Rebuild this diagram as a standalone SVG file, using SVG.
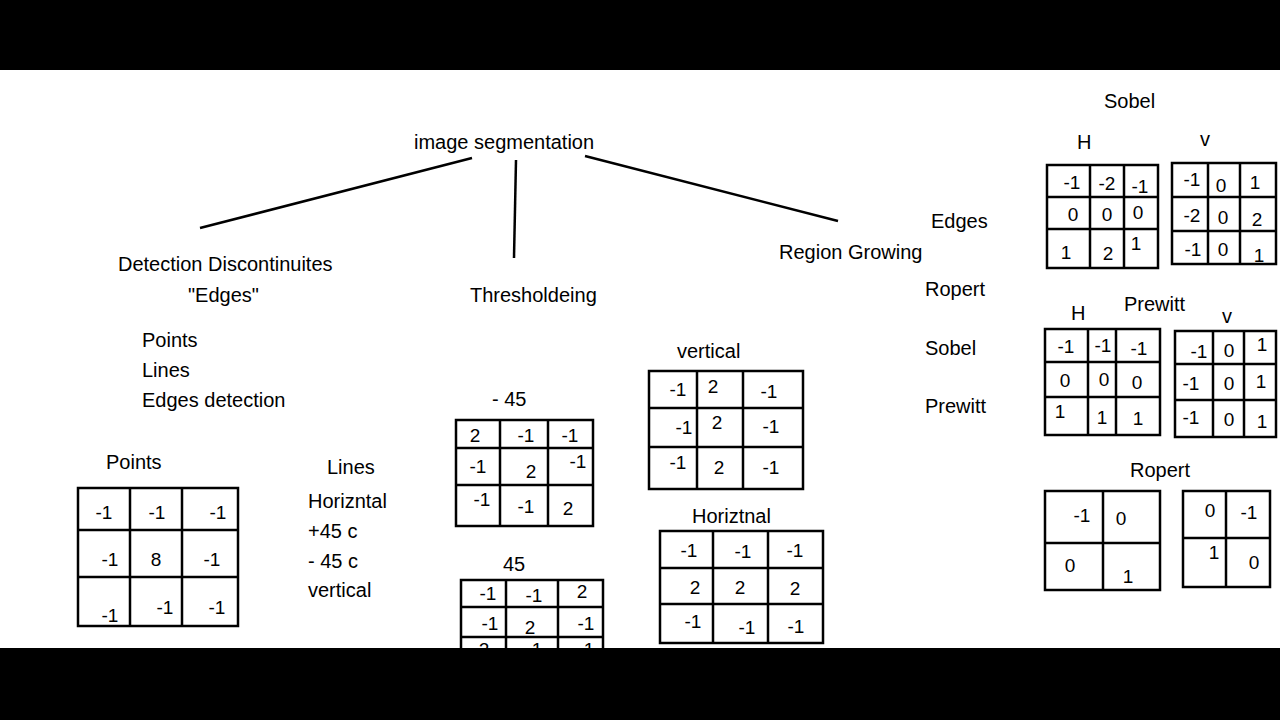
<svg xmlns="http://www.w3.org/2000/svg" width="1280" height="720" viewBox="0 0 1280 720">
<style>
text{font-family:"Liberation Sans","DejaVu Sans",sans-serif;font-size:20px;fill:#000}
.m text{font-size:19px;text-anchor:middle}
.g{fill:none;stroke:#000;stroke-width:2.5}
.c{stroke:#000;stroke-width:2.5}
</style>
<rect width="1280" height="720" fill="#fff"/>
<g id="connectors">
<line class="c" x1="472" y1="158" x2="200" y2="228"/>
<line class="c" x1="516" y1="160" x2="514" y2="258"/>
<line class="c" x1="585" y1="156" x2="838" y2="221"/>
</g>
<g id="labels">
<text x="414" y="149">image segmentation</text>
<text x="118" y="271">Detection Discontinuites</text>
<text x="188" y="302">"Edges"</text>
<text x="470" y="302">Thresholdeing</text>
<text x="779" y="259">Region Growing</text>
<text x="142" y="347">Points</text>
<text x="142" y="377">Lines</text>
<text x="142" y="407">Edges detection</text>
<text x="106" y="469">Points</text>
<text x="327" y="474">Lines</text>
<text x="308" y="508">Horizntal</text>
<text x="308" y="538">+45 c</text>
<text x="308" y="568">- 45 c</text>
<text x="308" y="597">vertical</text>
<text x="492" y="406">- 45</text>
<text x="503" y="571">45</text>
<text x="677" y="358">vertical</text>
<text x="692" y="523">Horiztnal</text>
<text x="1104" y="108">Sobel</text>
<text x="1077" y="149">H</text>
<text x="1200" y="146">v</text>
<text x="931" y="228">Edges</text>
<text x="925" y="296">Ropert</text>
<text x="925" y="355">Sobel</text>
<text x="925" y="413">Prewitt</text>
<text x="1124" y="311">Prewitt</text>
<text x="1071" y="320">H</text>
<text x="1222" y="323">v</text>
<text x="1130" y="477">Ropert</text>
</g>
<g id="m-points" class="m">
<rect class="g" x="78" y="488" width="160" height="138"/>
<path class="g" d="M130 488V626M182 488V626M78 530H238M78 577H238"/>
<text x="104" y="519">-1</text><text x="157" y="519">-1</text><text x="218" y="519">-1</text>
<text x="110" y="566">-1</text><text x="156" y="566">8</text><text x="212" y="566">-1</text>
<text x="110" y="622">-1</text><text x="165" y="614">-1</text><text x="217" y="614">-1</text>
</g>
<g id="m-minus45" class="m">
<rect class="g" x="456" y="420" width="137" height="106"/>
<path class="g" d="M500 420V526M548 420V526M456 448H593M456 485H593"/>
<text x="475" y="442">2</text><text x="526" y="442">-1</text><text x="570" y="442">-1</text>
<text x="478" y="473">-1</text><text x="531" y="478">2</text><text x="578" y="468">-1</text>
<text x="482" y="506">-1</text><text x="526" y="513">-1</text><text x="568" y="515">2</text>
</g>
<g id="m-45" class="m">
<rect class="g" x="461" y="580" width="142" height="80"/>
<path class="g" d="M506 580V660M558 580V660M461 607H603M461 637H603"/>
<text x="488" y="600">-1</text><text x="534" y="602">-1</text><text x="582" y="598">2</text>
<text x="490" y="630">-1</text><text x="530" y="634">2</text><text x="586" y="630">-1</text>
<text x="484" y="656">2</text><text x="534" y="656">-1</text><text x="586" y="656">-1</text>
</g>
<g id="m-vertical" class="m">
<rect class="g" x="649" y="371" width="154" height="118"/>
<path class="g" d="M697 371V489M743 371V489M649 408H803M649 447H803"/>
<text x="678" y="396">-1</text><text x="713" y="393">2</text><text x="769" y="398">-1</text>
<text x="684" y="434">-1</text><text x="717" y="429">2</text><text x="771" y="433">-1</text>
<text x="678" y="469">-1</text><text x="719" y="474">2</text><text x="771" y="474">-1</text>
</g>
<g id="m-horiz" class="m">
<rect class="g" x="660" y="531" width="163" height="112"/>
<path class="g" d="M713 531V643M768 531V643M660 568H823M660 604H823"/>
<text x="689" y="557">-1</text><text x="743" y="558">-1</text><text x="795" y="557">-1</text>
<text x="695" y="594">2</text><text x="740" y="594">2</text><text x="795" y="595">2</text>
<text x="693" y="628">-1</text><text x="747" y="634">-1</text><text x="796" y="633">-1</text>
</g>
<g id="m-sobel-h" class="m">
<rect class="g" x="1047" y="165" width="111" height="103"/>
<path class="g" d="M1090 165V268M1124 165V268M1047 197H1158M1047 229H1158"/>
<text x="1072" y="189">-1</text><text x="1107" y="190">-2</text><text x="1140" y="193">-1</text>
<text x="1073" y="221">0</text><text x="1107" y="221">0</text><text x="1138" y="219">0</text>
<text x="1066" y="259">1</text><text x="1108" y="260">2</text><text x="1136" y="250">1</text>
</g>
<g id="m-sobel-v" class="m">
<rect class="g" x="1172" y="163" width="104" height="101"/>
<path class="g" d="M1208 163V264M1240 163V264M1172 197H1276M1172 231H1276"/>
<text x="1192" y="186">-1</text><text x="1221" y="192">0</text><text x="1255" y="189">1</text>
<text x="1192" y="222">-2</text><text x="1223" y="224">0</text><text x="1257" y="226">2</text>
<text x="1193" y="256">-1</text><text x="1223" y="256">0</text><text x="1259" y="262">1</text>
</g>
<g id="m-prewitt-h" class="m">
<rect class="g" x="1045" y="329" width="115" height="106"/>
<path class="g" d="M1088 329V435M1116 329V435M1045 362H1160M1045 397H1160"/>
<text x="1066" y="353">-1</text><text x="1103" y="352">-1</text><text x="1139" y="355">-1</text>
<text x="1065" y="387">0</text><text x="1104" y="386">0</text><text x="1137" y="389">0</text>
<text x="1060" y="418">1</text><text x="1102" y="424">1</text><text x="1138" y="425">1</text>
</g>
<g id="m-prewitt-v" class="m">
<rect class="g" x="1175" y="331" width="101" height="106"/>
<path class="g" d="M1213 331V437M1244 331V437M1175 364H1276M1175 400H1276"/>
<text x="1199" y="358">-1</text><text x="1229" y="357">0</text><text x="1262" y="351">1</text>
<text x="1191" y="390">-1</text><text x="1229" y="390">0</text><text x="1261" y="388">1</text>
<text x="1191" y="424">-1</text><text x="1229" y="426">0</text><text x="1262" y="428">1</text>
</g>
<g id="m-ropert-1" class="m">
<rect class="g" x="1045" y="491" width="115" height="99"/>
<path class="g" d="M1103 491V590M1045 543H1160"/>
<text x="1082" y="522">-1</text><text x="1121" y="525">0</text>
<text x="1070" y="572">0</text><text x="1128" y="583">1</text>
</g>
<g id="m-ropert-2" class="m">
<rect class="g" x="1183" y="491" width="87" height="96"/>
<path class="g" d="M1226 491V587M1183 538H1270"/>
<text x="1210" y="517">0</text><text x="1249" y="519">-1</text>
<text x="1214" y="559">1</text><text x="1254" y="569">0</text>
</g>
<rect x="0" y="0" width="1280" height="70" fill="#000"/>
<rect x="0" y="648" width="1280" height="72" fill="#000"/>
</svg>
